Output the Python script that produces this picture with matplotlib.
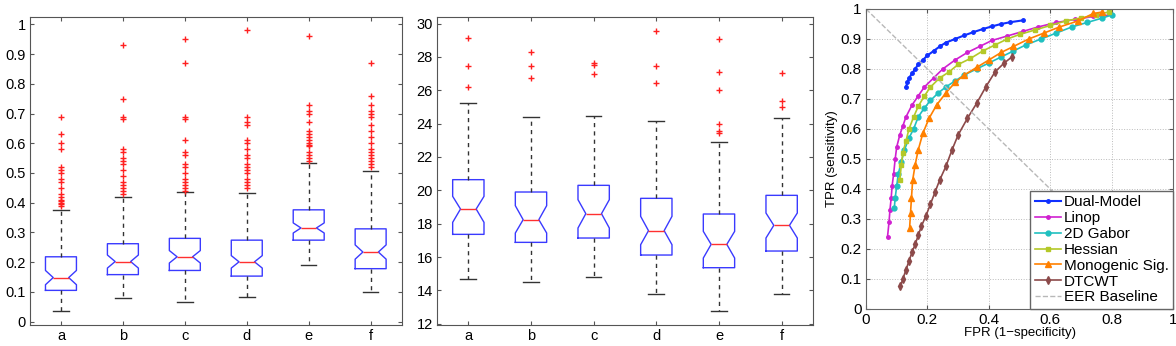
import matplotlib
matplotlib.use("Agg")
import matplotlib.pyplot as plt
from matplotlib.ticker import FormatStrFormatter

plt.rcParams['font.family'] = ['Liberation Sans', 'DejaVu Sans']

labels = ["a", "b", "c", "d", "e", "f"]

# panel 1 box stats
p1_med = [0.148, 0.202, 0.218, 0.201, 0.315, 0.234]
p1_q1 = [0.105, 0.158, 0.172, 0.153, 0.274, 0.178]
p1_q3 = [0.218, 0.262, 0.280, 0.274, 0.376, 0.312]
p1_lo = [0.036, 0.078, 0.067, 0.083, 0.189, 0.100]
p1_hi = [0.377, 0.418, 0.436, 0.433, 0.534, 0.506]
p1_cilo = [0.124, 0.180, 0.197, 0.180, 0.298, 0.210]
p1_cihi = [0.172, 0.224, 0.239, 0.222, 0.332, 0.258]
p1_out = [
    [0.39, 0.395, 0.40, 0.405, 0.41, 0.42, 0.43, 0.45, 0.47, 0.48, 0.50, 0.51, 0.52, 0.58, 0.60, 0.63, 0.69],
    [0.43, 0.44, 0.45, 0.46, 0.47, 0.49, 0.51, 0.53, 0.54, 0.55, 0.57, 0.58, 0.68, 0.69, 0.75, 0.93],
    [0.44, 0.45, 0.46, 0.47, 0.48, 0.50, 0.52, 0.53, 0.56, 0.57, 0.61, 0.68, 0.69, 0.87, 0.95],
    [0.45, 0.46, 0.47, 0.48, 0.50, 0.51, 0.52, 0.53, 0.55, 0.56, 0.58, 0.60, 0.61, 0.66, 0.67, 0.69, 0.98],
    [0.54, 0.55, 0.56, 0.57, 0.59, 0.595, 0.60, 0.61, 0.62, 0.63, 0.64, 0.67, 0.70, 0.71, 0.73, 0.96],
    [0.52, 0.53, 0.54, 0.55, 0.56, 0.57, 0.58, 0.60, 0.62, 0.64, 0.66, 0.69, 0.70, 0.71, 0.73, 0.76, 0.87],
]

# panel 2 box stats
p2_med = [18.88, 18.24, 18.60, 17.58, 16.76, 17.90]
p2_q1 = [17.36, 16.88, 17.14, 16.12, 15.36, 16.36]
p2_q3 = [20.64, 19.90, 20.30, 19.52, 18.58, 19.70]
p2_lo = [14.68, 14.52, 14.80, 13.76, 12.74, 13.78]
p2_hi = [25.22, 24.38, 24.46, 24.18, 22.92, 24.34]
p2_cilo = [18.08, 17.44, 17.74, 16.74, 15.94, 17.14]
p2_cihi = [19.64, 19.08, 19.44, 18.44, 17.54, 18.64]
p2_out = [
    [29.14, 27.46, 26.22],
    [28.28, 27.46, 26.72],
    [27.64, 27.54, 26.98],
    [29.56, 27.48, 26.44],
    [29.10, 27.12, 26.04, 24.00, 23.54, 23.44],
    [27.04, 25.38, 24.98],
]

# panel 3 ROC curves
dual_x = [0.13, 0.135, 0.14, 0.15, 0.16, 0.17, 0.185, 0.20, 0.22, 0.24, 0.26, 0.29, 0.32, 0.35, 0.38, 0.41, 0.44, 0.47, 0.51]
dual_y = [0.74, 0.755, 0.77, 0.785, 0.80, 0.815, 0.83, 0.845, 0.86, 0.875, 0.888, 0.90, 0.912, 0.923, 0.933, 0.942, 0.95, 0.956, 0.962]
linop_x = [0.07, 0.075, 0.078, 0.082, 0.085, 0.09, 0.095, 0.10, 0.11, 0.12, 0.13, 0.15, 0.17, 0.19, 0.22, 0.25, 0.29, 0.33, 0.37, 0.41, 0.46, 0.51, 0.56, 0.62, 0.68, 0.74, 0.80]
linop_y = [0.24, 0.29, 0.33, 0.37, 0.41, 0.45, 0.50, 0.54, 0.58, 0.61, 0.64, 0.68, 0.71, 0.74, 0.77, 0.80, 0.83, 0.855, 0.875, 0.895, 0.91, 0.925, 0.94, 0.955, 0.965, 0.975, 0.98]
gabor_x = [0.092, 0.095, 0.10, 0.105, 0.115, 0.125, 0.14, 0.155, 0.17, 0.19, 0.21, 0.235, 0.26, 0.29, 0.32, 0.36, 0.40, 0.44, 0.48, 0.52, 0.57, 0.62, 0.67, 0.72, 0.77, 0.80]
gabor_y = [0.335, 0.37, 0.41, 0.45, 0.49, 0.53, 0.57, 0.60, 0.64, 0.67, 0.695, 0.72, 0.74, 0.76, 0.78, 0.80, 0.82, 0.84, 0.86, 0.88, 0.90, 0.92, 0.94, 0.955, 0.97, 0.98]
hess_x = [0.11, 0.115, 0.12, 0.13, 0.14, 0.155, 0.17, 0.19, 0.21, 0.24, 0.27, 0.30, 0.34, 0.38, 0.42, 0.46, 0.50, 0.55, 0.60, 0.65, 0.70, 0.75, 0.79]
hess_y = [0.43, 0.48, 0.52, 0.56, 0.60, 0.64, 0.675, 0.71, 0.74, 0.77, 0.79, 0.815, 0.835, 0.86, 0.88, 0.90, 0.915, 0.93, 0.945, 0.96, 0.97, 0.98, 0.99]
mono_x = [0.142, 0.145, 0.148, 0.152, 0.16, 0.17, 0.185, 0.205, 0.23, 0.26, 0.29, 0.32, 0.36, 0.40, 0.44, 0.48, 0.53, 0.58, 0.63, 0.69, 0.74, 0.77]
mono_y = [0.27, 0.32, 0.37, 0.43, 0.48, 0.53, 0.585, 0.635, 0.68, 0.72, 0.755, 0.78, 0.805, 0.83, 0.855, 0.875, 0.90, 0.92, 0.94, 0.96, 0.985, 0.99]
dtcwt_x = [0.112, 0.12, 0.13, 0.14, 0.15, 0.16, 0.17, 0.18, 0.195, 0.21, 0.225, 0.24, 0.26, 0.28, 0.30, 0.33, 0.36, 0.39, 0.42, 0.45, 0.475]
dtcwt_y = [0.075, 0.10, 0.13, 0.16, 0.19, 0.215, 0.245, 0.275, 0.31, 0.35, 0.39, 0.43, 0.475, 0.53, 0.58, 0.635, 0.685, 0.74, 0.79, 0.82, 0.84]
eer_x = [0, 1]
eer_y = [1, 0]


def draw_boxes(ax, med, q1, q3, lo, hi, cilo, cihi, out):
    stats = []
    for i in range(len(labels)):
        stats.append(dict(med=med[i], q1=q1[i], q3=q3[i], whislo=lo[i], whishi=hi[i],
                          cilo=cilo[i], cihi=cihi[i], fliers=out[i], label=labels[i]))
    ax.bxp(stats, positions=range(1, 7), widths=0.5, shownotches=True,
           boxprops=dict(color="#3a3aff", lw=1.0),
           medianprops=dict(color="#ff3030", lw=1.0),
           whiskerprops=dict(color="#333333", lw=1.0, ls=(0, (3, 3))),
           capprops=dict(color="#333333", lw=1.0),
           flierprops=dict(marker="+", markeredgecolor="#ff2020", markersize=4, markeredgewidth=1.0))
    ax.set_xlim(0.5, 6.5)
    ax.tick_params(direction="in", top=True, right=True, labelsize=10.5, length=3,
                   color="#555555", pad=3)
    for s in ax.spines.values():
        s.set_color("#555555")


fig = plt.figure(figsize=(11.76, 3.46), dpi=100)

ax1 = fig.add_axes([0.0255, 0.062, 0.316, 0.889])
draw_boxes(ax1, p1_med, p1_q1, p1_q3, p1_lo, p1_hi, p1_cilo, p1_cihi, p1_out)
ax1.set_ylim(-0.01, 1.025)
ax1.set_yticks([i / 10 for i in range(11)])
ax1.yaxis.set_major_formatter(FormatStrFormatter("%g"))

ax2 = fig.add_axes([0.3716, 0.062, 0.3197, 0.889])
draw_boxes(ax2, p2_med, p2_q1, p2_q3, p2_lo, p2_hi, p2_cilo, p2_cihi, p2_out)
ax2.set_ylim(11.95, 30.4)
ax2.set_yticks(range(12, 31, 2))

ax3 = fig.add_axes([0.7364, 0.107, 0.2611, 0.867])
ax3.plot(dual_x, dual_y, color="#1030ff", marker=".", ms=5, lw=1.5, label="Dual-Model")
ax3.plot(linop_x, linop_y, color="#d020d0", marker=".", ms=5, lw=1.2, label="Linop")
ax3.plot(gabor_x, gabor_y, color="#20c0c0", marker="o", ms=3.5, lw=1.2, label="2D Gabor")
ax3.plot(hess_x, hess_y, color="#b4c828", marker="s", ms=3.5, lw=1.2, label="Hessian")
ax3.plot(mono_x, mono_y, color="#ff8000", marker="^", ms=4, lw=1.2, label="Monogenic Sig.")
ax3.plot(dtcwt_x, dtcwt_y, color="#8c4a4a", marker="d", ms=4, lw=1.2, label="DTCWT")
ax3.plot(eer_x, eer_y, color="#b8b8b8", ls="--", lw=1.0, label="EER Baseline")
ax3.set_xlim(0, 1)
ax3.set_ylim(0, 1)
ax3.set_xticks([0, 0.2, 0.4, 0.6, 0.8, 1])
ax3.set_yticks([i / 10 for i in range(11)])
ax3.xaxis.set_major_formatter(FormatStrFormatter("%g"))
ax3.yaxis.set_major_formatter(FormatStrFormatter("%g"))
ax3.grid(True, ls=":", color="#bbbbbb", lw=0.7)
ax3.tick_params(direction="in", top=True, right=True, labelsize=11, length=3,
                color="#555555", pad=3)
for s in ax3.spines.values():
    s.set_color("#666666")
ax3.set_xlabel("FPR (1\u2212specificity)", fontsize=9.5, labelpad=0)
ax3.set_ylabel("TPR (sensitivity)", fontsize=9.5, labelpad=2)
leg = ax3.legend(loc="lower right", fontsize=11, borderaxespad=0, fancybox=False,
                 framealpha=1, edgecolor="#666666", labelspacing=0.12,
                 handlelength=1.7, handletextpad=0.2, borderpad=0.3)

fig.savefig("out.png", dpi=100)
